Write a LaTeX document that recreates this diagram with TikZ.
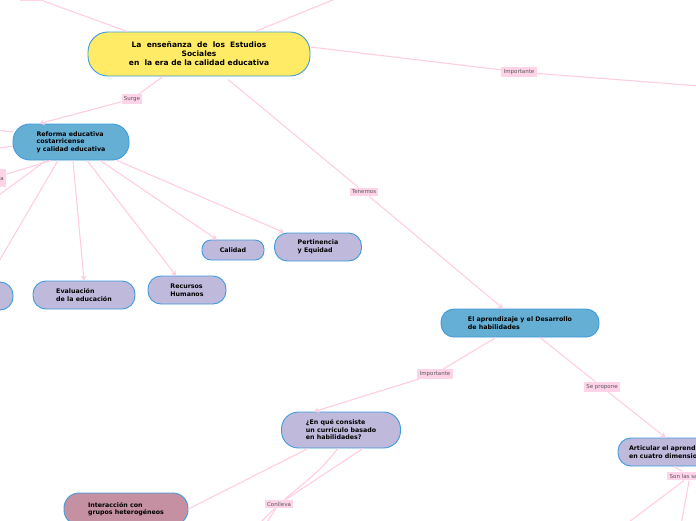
\documentclass[tikz,border=0pt]{standalone}
\usepackage{fontspec}
\usetikzlibrary{arrows.meta}
\setmainfont{DejaVu Sans}
\definecolor{bord}{HTML}{3E9BDC}
\definecolor{yel}{HTML}{FFEB66}
\definecolor{blu}{HTML}{66AFD4}
\definecolor{lav}{HTML}{BFB9DB}
\definecolor{mauv}{HTML}{C490A2}
\definecolor{pk}{HTML}{FFCDE3}
\definecolor{pkl}{HTML}{FFD3E8}
\begin{document}
\begin{tikzpicture}[x=1pt,y=-1pt,
  box/.style={draw=bord, line width=0.9pt, rounded corners=13pt, font=\bfseries\fontsize{6.3}{7.5}\selectfont, align=left, inner sep=0pt},
  lbl/.style={fill=pkl, text=black!65, font=\fontsize{5.5}{6}\selectfont, inner sep=2.2pt},
  ln/.style={draw=pk, line width=1.1pt},
  arr/.style={ln,-{Stealth[length=5pt,width=6pt]}}]
\useasboundingbox (0,0) rectangle (696,520);
\begin{scope}
\clip (0,0) rectangle (696,520);
% nodes
\node[box, fill=yel, minimum width=222pt, minimum height=44pt, rounded corners=20pt, align=center, font=\bfseries\fontsize{7.5}{9}\selectfont] (main) at (199,54) {La\ \ enseñanza\ \ de\ \ los\ \ Estudios\\ Sociales\\en\ \ la era de la calidad educativa};
\node[box, fill=blu, minimum width=116pt, minimum height=36pt, rounded corners=17pt] (ref) at (71,142) {Reforma educativa\\costarricense\\y calidad educativa};
\node[box, fill=lav, minimum width=62pt, minimum height=20pt, rounded corners=9pt] (cal) at (233,250) {Calidad};
\node[box, fill=lav, minimum width=87pt, minimum height=28pt] (per) at (318,247) {Pertinencia\\y Equidad};
\node[box, fill=lav, minimum width=78pt, minimum height=28pt] (rec) at (187,290) {Recursos\\Humanos};
\node[box, fill=lav, minimum width=102pt, minimum height=28pt] (eva) at (84,295) {Evaluación\\de la educación};
\node[box, fill=lav, minimum width=50pt, minimum height=28pt] (lp) at (-12,296) {};
\node[box, fill=blu, minimum width=158pt, minimum height=28pt] (apr) at (520,323) {El aprendizaje y el Desarrollo\\de habilidades};
\node[box, fill=lav, minimum width=119pt, minimum height=36pt, rounded corners=17pt] (enq) at (341,430) {¿En qué consiste\\un currículo basado\\en habilidades?};
\node[box, fill=lav, minimum width=112pt, minimum height=28pt, text width=90pt] (art) at (674,452) {Articular el aprendizaje\\en cuatro dimensiones};
\node[box, fill=mauv, minimum width=124pt, minimum height=32pt, rounded corners=15pt] (int) at (126,509) {Interacción con\\grupos heterogéneos};
% labels
\node[lbl] (lsur) at (132,99) {Surge};
\node[lbl] (lten) at (364,192) {Tenemos};
\node[lbl] (limp1) at (519,72) {Importante};
\node[lbl] (limp2) at (435,374) {Importante};
\node[lbl] (lse) at (602,387) {Se propone};
\node[lbl] (lcon) at (279,504) {Conlleva};
\node[lbl] (lson) at (690,476) {Son las salidas};
\node[lbl, minimum height=18pt] (la) at (-6,178) {Cuenta};
\node[lbl] (ltl) at (32,-3) {Unifica};
\coordinate (t1) at (345,-5);
\coordinate (r1) at (700,86);
% edges
\draw[ln] (main.north west)++(40,0) -- (ltl);
\draw[ln] (main.north)++(56,0) -- (t1);
\draw[ln] ([yshift=7]main.east) -- (limp1) -- (r1);
\draw[ln] (main.south)++(-36,0) -- (lsur);
\draw[arr] (lsur) -- ([xshift=27]ref.north west);
\draw[ln] ([yshift=-3]main.south)++(29,0) -- (lten);
\draw[arr] (lten) -- ([xshift=-17]apr.north);
\draw[ln] (ref.west)++(0,-10) -- (-5,130);
\draw[ln] (ref.west)++(0,4) -- (-5,149);
\draw[ln] (ref.south)++(-20,0) -- (la);
\draw[ln] (ref.south)++(-25,0) -- (-5,198);
\draw[ln] (ref.south)++(-13,0) -- (-5,268);
\draw[arr] (ref.south)++(2,0) -- (eva.north);
\draw[arr] (ref.south)++(16,0) -- ([xshift=-11]rec.north);
\draw[arr] (ref.south)++(29,0) -- ([xshift=-16]cal.north);
\draw[arr] (ref.south)++(46,0) -- ([xshift=-34]per.north);
\draw[ln] (apr.south)++(-24,0) -- (limp2);
\draw[arr] (limp2) -- ([xshift=33]enq.north west);
\draw[ln] (apr.south)++(20,0) -- (lse);
\draw[arr] (lse) -- ([xshift=48]art.north west);
\draw[ln] (enq.south)++(-33,0) -- (int.east);
\draw[ln] (enq.south)++(-3,0) .. controls (320,470) .. (lcon);
\draw[ln] (enq.south)++(22,0) -- (lcon);
\draw[ln] (lcon) -- (265,525);
\draw[ln] (lcon) -- (258,525);
\draw[ln] (art.south) -- (lson);
\draw[ln] (lson) -- (625,525);
\draw[ln] (lson) -- (681,525);
\end{scope}
\end{tikzpicture}
\end{document}
